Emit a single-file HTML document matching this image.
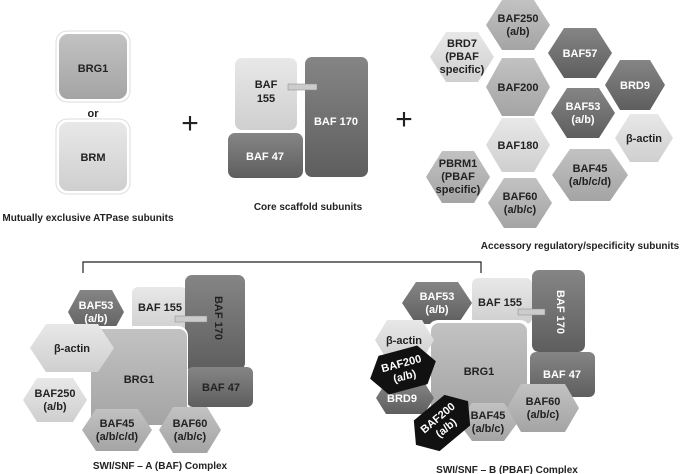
<!DOCTYPE html>
<html><head><meta charset="utf-8"><style>
html,body{margin:0;padding:0;background:#fff}
svg{display:block}
text{font-family:"Liberation Sans",sans-serif;font-weight:bold;font-size:11px;text-anchor:middle}
.d{fill:#222}.w{fill:#fff}
</style></head><body>
<svg width="685" height="474" viewBox="0 0 685 474">
<defs>
<linearGradient id="gl" x1="0" y1="0" x2="0" y2="1"><stop offset="0" stop-color="#e8e8e8"/><stop offset="1" stop-color="#cfcfcf"/></linearGradient>
<linearGradient id="gm" x1="0" y1="0" x2="0" y2="1"><stop offset="0" stop-color="#c2c2c2"/><stop offset="1" stop-color="#a4a4a4"/></linearGradient>
<linearGradient id="gd" x1="0" y1="0" x2="0" y2="1"><stop offset="0" stop-color="#858585"/><stop offset="1" stop-color="#5e5e5e"/></linearGradient>
</defs>
<rect x="56" y="31" width="74" height="71" rx="11" fill="#fff" stroke="#ddd"/>
<rect x="59" y="34" width="68" height="65" rx="9" fill="url(#gm)"/>
<text x="93" y="72" class="d">BRG1</text>
<text x="93" y="117" class="d">or</text>
<rect x="56" y="119" width="74" height="75" rx="11" fill="#fff" stroke="#ddd"/>
<rect x="59" y="122" width="68" height="69" rx="9" fill="url(#gl)"/>
<text x="93" y="161" class="d">BRM</text>
<text x="88" y="221" class="d" style="font-size:10px">Mutually exclusive ATPase subunits</text>
<text x="190" y="133" style="font-size:30px;font-weight:normal" fill="#222">+</text>
<rect x="235" y="58" width="62" height="72" rx="7" fill="url(#gl)"/>
<text x="266" y="88" class="d">BAF</text><text x="266" y="102" class="d">155</text>
<rect x="305" y="57" width="63" height="120" rx="7" fill="url(#gd)"/>
<text x="336" y="125" class="w">BAF 170</text>
<rect x="228" y="133" width="75" height="45" rx="7" fill="url(#gd)"/>
<text x="265" y="160" class="w">BAF 47</text>
<rect x="288" y="84" width="29" height="6" fill="#ccc" stroke="#888" stroke-width="0.5"/>
<text x="308" y="210" class="d" style="font-size:10px">Core scaffold subunits</text>
<text x="404" y="129" style="font-size:30px;font-weight:normal" fill="#222">+</text>
<polygon points="486,25 502,0 534,0 550,25 534,50 502,50" fill="url(#gm)"/>
<text x="518" y="22" class="d">BAF250</text><text x="518" y="35" class="d">(a/b)</text>
<polygon points="430,57 446,32 478,32 494,57 478,82 446,82" fill="url(#gl)"/>
<text x="462" y="47" class="d">BRD7</text><text x="462" y="60" class="d">(PBAF</text><text x="462" y="73" class="d">specific)</text>
<polygon points="548,53 564,28 596,28 612,53 596,78 564,78" fill="url(#gd)"/>
<text x="580" y="57" class="w">BAF57</text>
<polygon points="486,87 502,58 534,58 550,87 534,116 502,116" fill="url(#gm)"/>
<text x="518" y="91" class="d">BAF200</text>
<polygon points="605,85 620,60 650,60 665,85 650,110 620,110" fill="url(#gd)"/>
<text x="635" y="89" class="w">BRD9</text>
<polygon points="551,113 567,88 599,88 615,113 599,138 567,138" fill="url(#gd)"/>
<text x="583" y="110" class="w">BAF53</text><text x="583" y="123" class="w">(a/b)</text>
<polygon points="615,138 630,114 658,114 673,138 658,162 630,162" fill="url(#gl)"/>
<text x="644" y="142" class="d">β-actin</text>
<polygon points="486,145 502,118 534,118 550,145 534,172 502,172" fill="url(#gl)"/>
<text x="518" y="149" class="d">BAF180</text>
<polygon points="426,177 442,151 474,151 490,177 474,203 442,203" fill="url(#gm)"/>
<text x="458" y="167" class="d">PBRM1</text><text x="458" y="180" class="d">(PBAF</text><text x="458" y="193" class="d">specific)</text>
<polygon points="552,175 570,149 610,149 628,175 610,201 570,201" fill="url(#gm)"/>
<text x="590" y="172" class="d">BAF45</text><text x="590" y="185" class="d">(a/b/c/d)</text>
<polygon points="488,203 504,178 536,178 552,203 536,228 504,228" fill="url(#gm)"/>
<text x="520" y="200" class="d">BAF60</text><text x="520" y="213" class="d">(a/b/c)</text>
<text x="580" y="249" class="d" style="font-size:10px">Accessory regulatory/specificity subunits</text>
<polyline points="83,273 83,262 481,262 481,273" fill="none" stroke="#222" stroke-width="1.2"/>
<!-- bottom left -->
<rect x="132" y="287" width="55" height="46" rx="6" fill="url(#gl)"/>
<text x="160" y="311" class="d">BAF 155</text>
<polygon points="68,312 80,290 112,290 124,312 112,334 80,334" fill="url(#gd)"/>
<text x="96" y="309" class="w">BAF53</text><text x="96" y="322" class="w">(a/b)</text>
<rect x="185" y="275" width="60" height="95" rx="7" fill="url(#gd)"/>
<text transform="translate(215,318) rotate(90)" class="d">BAF 170</text>
<rect x="175" y="316" width="32" height="6" fill="#ccc" stroke="#888" stroke-width="0.5"/>
<rect x="187" y="367" width="66" height="40" rx="6" fill="url(#gd)"/>
<text x="221" y="391" class="d">BAF 47</text>
<rect x="88" y="326" width="100" height="101" rx="10" fill="#fff"/>
<rect x="91" y="329" width="96" height="96" rx="8" fill="url(#gm)"/>
<text x="139" y="383" class="d">BRG1</text>
<polygon points="30,348 46,324 98,324 114,348 98,372 46,372" fill="url(#gl)"/>
<text x="72" y="352" class="d">β-actin</text>
<polygon points="23,400 37,378 73,378 87,400 73,422 37,422" fill="url(#gl)"/>
<text x="55" y="397" class="d">BAF250</text><text x="55" y="410" class="d">(a/b)</text>
<polygon points="82,430 96,409 138,409 152,430 138,451 96,451" fill="url(#gm)"/>
<text x="117" y="427" class="d">BAF45</text><text x="117" y="440" class="d">(a/b/c/d)</text>
<polygon points="159,430 173,407 207,407 221,430 207,453 173,453" fill="url(#gm)"/>
<text x="190" y="427" class="d">BAF60</text><text x="190" y="440" class="d">(a/b/c)</text>
<text x="160" y="469" class="d" style="font-size:10px">SWI/SNF – A (BAF) Complex</text>
<!-- bottom right -->
<polygon points="402,303 416,282 458,282 472,303 458,324 416,324" fill="url(#gd)"/>
<text x="437" y="300" class="w">BAF53</text><text x="437" y="313" class="w">(a/b)</text>
<rect x="472" y="278" width="60" height="46" rx="6" fill="url(#gl)"/>
<text x="500" y="306" class="d">BAF 155</text>
<rect x="532" y="270" width="53" height="82" rx="7" fill="url(#gd)"/>
<text transform="translate(557,312) rotate(90)" class="w">BAF 170</text>
<rect x="518" y="309" width="27" height="6" fill="#ccc" stroke="#888" stroke-width="0.5"/>
<rect x="530" y="352" width="65" height="45" rx="6" fill="url(#gd)"/>
<text x="562" y="378" class="w">BAF 47</text>
<rect x="428" y="320" width="102" height="99" rx="10" fill="#fff"/>
<rect x="431" y="323" width="96" height="93" rx="8" fill="url(#gm)"/>
<text x="479" y="375" class="d">BRG1</text>
<polygon points="375,340 387,320 422,320 434,340 422,360 387,360" fill="url(#gl)"/>
<text x="404" y="344" class="d">β-actin</text>
<polygon points="376,398 386,382 424,382 434,398 424,414 386,414" fill="url(#gd)"/>
<text x="402" y="402" class="w">BRD9</text>
<g transform="translate(403,370) rotate(-15)">
<polygon points="-34,0 -20,-20 20,-20 34,0 20,20 -20,20" fill="#111"/>
<text x="0" y="-3" class="w">BAF200</text><text x="0" y="10" class="w">(a/b)</text></g>
<polygon points="458,422 472,403 504,403 518,422 504,441 472,441" fill="url(#gm)"/>
<text x="488" y="419" class="d">BAF45</text><text x="488" y="432" class="d">(a/b/c)</text>
<g transform="translate(442,423) rotate(-40)">
<polygon points="-34,0 -20,-20 20,-20 34,0 20,20 -20,20" fill="#111"/>
<text x="0" y="-3" class="w">BAF200</text><text x="0" y="10" class="w">(a/b)</text></g>
<polygon points="507,408 521,384 565,384 579,408 565,432 521,432" fill="url(#gm)"/>
<text x="543" y="405" class="d">BAF60</text><text x="543" y="418" class="d">(a/b/c)</text>
<text x="507" y="473" class="d" style="font-size:10px">SWI/SNF – B (PBAF) Complex</text>
</svg>
</body></html>
